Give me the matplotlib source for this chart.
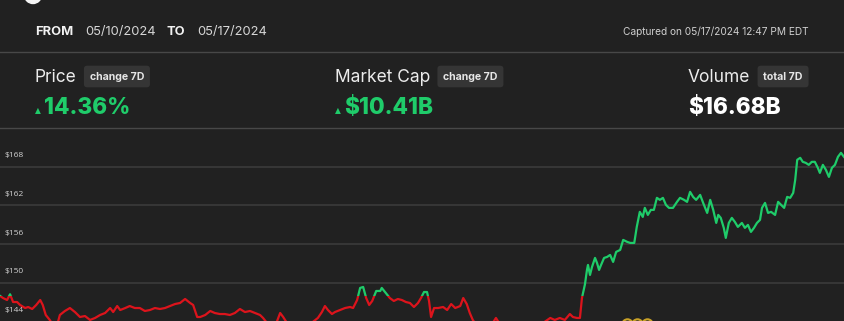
import numpy as np
import matplotlib
matplotlib.use('Agg')
import matplotlib.pyplot as plt
from matplotlib.patches import Rectangle, Ellipse

# price over the 7 days (hours since 05/10 12:47)
hours = [0.0, 0.6, 1.4, 2.0, 2.6, 3.4, 4.0, 5.0, 5.6, 6.4, 7.2, 8.0, 8.5, 9.1, 9.9, 10.5, 11.3, 11.9,
         12.9, 13.9, 14.9, 15.9, 16.9, 17.9, 18.9, 19.9, 20.9, 21.9, 22.5, 23.3, 23.9, 24.9, 25.8, 26.8,
         27.8, 28.8, 29.8, 30.8, 31.8, 32.8, 33.8, 34.8, 35.8, 36.8, 37.8, 38.4, 39.2, 39.8, 40.8, 41.8,
         42.7, 43.7, 44.7, 45.7, 46.7, 47.7, 48.7, 49.7, 50.7, 51.7, 52.3, 53.3, 54.7, 55.7, 56.3, 57.3,
         59.6, 61.6, 63.2, 64.0, 64.6, 65.2, 66.0, 66.6, 67.6, 68.6, 69.6, 70.2, 71.0, 71.6, 72.2, 72.8,
         73.4, 74.0, 74.8, 75.6, 75.9, 76.7, 77.5, 78.3, 79.1, 79.9, 80.7, 81.5, 82.3, 83.1, 83.7, 84.3,
         84.9, 85.3, 85.7, 86.3, 87.1, 88.1, 88.9, 89.7, 90.5, 91.5, 92.1, 92.8, 93.4, 94.0, 94.8, 96.4,
         97.8, 98.6, 99.4, 101.4, 104.4, 107.4, 109.4, 110.3, 111.3, 112.3, 113.3, 113.9, 114.7, 115.3,
         115.7, 116.3, 116.7, 116.9, 117.3, 117.7, 118.3, 118.7, 119.1, 119.5, 120.1, 120.7, 121.3, 121.9,
         122.5, 123.3, 123.9, 124.7, 125.3, 126.1, 126.6, 127.2, 127.8, 128.2, 128.8, 129.4, 130.0, 130.6,
         131.2, 131.8, 132.4, 133.0, 133.8, 134.6, 135.2, 136.0, 136.6, 137.2, 137.8, 138.4, 139.2, 139.8,
         140.6, 141.2, 141.8, 142.4, 142.8, 143.3, 143.9, 144.3, 144.9, 145.5, 146.1, 146.7, 147.5, 148.1,
         148.7, 149.3, 149.9, 150.5, 151.1, 151.5, 152.1, 152.7, 153.3, 154.1, 154.7, 155.3, 155.9, 156.5,
         157.1, 157.7, 158.1, 158.5, 159.1, 159.6, 160.2, 160.8, 161.4, 162.0, 162.6, 163.0, 163.6, 164.2,
         164.8, 165.4, 166.0, 166.6, 167.2, 167.8]
price = [148.0, 147.67, 147.36, 148.25, 147.05, 147.05, 146.59, 146.12, 146.28, 145.97, 146.59, 147.36,
         146.59, 145.04, 144.27, 143.5, 143.3, 145.04, 145.66, 146.12, 145.5, 144.73, 144.88, 144.27,
         144.58, 145.04, 145.35, 146.12, 145.5, 146.43, 145.81, 146.12, 146.43, 146.12, 146.12, 145.66,
         145.81, 146.12, 145.97, 146.12, 146.43, 146.74, 146.9, 147.52, 146.9, 146.59, 144.73, 144.73,
         145.04, 145.66, 145.35, 145.19, 145.19, 145.04, 145.35, 145.97, 145.5, 145.66, 145.35, 145.04,
         144.58, 143.6, 143.3, 145.35, 144.73, 143.5, 143.0, 143.6, 144.58, 145.5, 146.43, 145.81,
         145.19, 145.5, 145.81, 146.12, 146.28, 146.12, 147.36, 149.23, 149.38, 147.67, 146.59, 147.21,
         148.76, 148.76, 149.23, 148.45, 147.67, 147.21, 147.52, 147.36, 147.05, 146.9, 146.28, 146.9,
         147.67, 148.6, 148.6, 147.21, 144.73, 146.12, 146.12, 146.28, 145.81, 146.74, 146.12, 146.43,
         147.67, 146.74, 145.35, 144.27, 143.4, 143.0, 143.6, 144.58, 143.6, 143.2, 143.0, 143.5,
         144.58, 144.27, 144.58, 144.27, 145.19, 144.73, 144.58, 144.58, 147.67, 149.8, 152.02, 152.79,
         151.24, 152.48, 153.88, 153.1, 152.02, 152.79, 153.88, 154.03, 154.34, 153.26, 154.81, 155.12,
         156.67, 156.36, 156.2, 156.2, 158.68, 161.01, 160.23, 161.63, 160.54, 161.32, 161.32, 163.18,
         162.87, 163.18, 162.09, 161.63, 161.63, 162.56, 163.18, 162.87, 162.56, 164.11, 163.33, 162.87,
         163.64, 162.4, 160.85, 162.87, 161.32, 159.3, 160.54, 160.08, 158.53, 156.98, 159.3, 160.08,
         159.46, 158.68, 159.3, 158.53, 158.99, 157.91, 158.53, 159.3, 159.77, 161.63, 162.4, 160.85,
         161.01, 160.54, 162.56, 162.09, 161.63, 163.33, 163.18, 163.95, 165.97, 169.07, 169.38, 168.76,
         168.6, 168.29, 168.76, 168.76, 167.83, 167.05, 168.29, 167.52, 166.43, 167.83, 168.29, 169.53,
         170.15, 169.53]
grid_levels = [144, 150, 156, 162, 168]
event_hours = [124.7, 126.6, 128.6]

BG = '#212121'
RED = '#dc141c'
GREEN = '#1fcc6a'
plt.rcParams['font.family'] = ['Inter', 'DejaVu Sans']

fig = plt.figure(figsize=(8.45, 3.21), dpi=100, facecolor=BG)

W, H = 845.0, 321.0
def fx(x):
    return x / W
def fy(y):
    return 1 - y / H

# header
fig.text(fx(35), fy(32), 'FROM', color='#f2f2f2', fontsize=9.3, fontweight='bold', va='center')
fig.text(fx(85), fy(32), '05/10/2024', color='#d6d6d6', fontsize=9.3, va='center')
fig.text(fx(167), fy(32), 'TO', color='#f2f2f2', fontsize=9.3, fontweight='bold', va='center')
fig.text(fx(197), fy(32), '05/17/2024', color='#d6d6d6', fontsize=9.3, va='center')
fig.text(fx(809), fy(32), 'Captured on 05/17/2024 12:47 PM EDT', color='#cfcfcf', fontsize=7.3,
         va='center', ha='right')
fig.add_artist(plt.Line2D([0, 1], [fy(52), fy(52)], color='#484848', lw=1))
fig.add_artist(plt.Line2D([0, 1], [fy(127.5), fy(127.5)], color='#484848', lw=1))
# logo bit cut off at the top
fig.add_artist(Ellipse((fx(33), fy(-5)), 17 / W, 17 / H, transform=fig.transFigure, color='#f5f5f5'))

badge = dict(boxstyle='round,pad=0.55,rounding_size=0.3', fc='#353535', ec='none')
metrics = [(35, 'Price', 'change 7D', '14.36%', GREEN, True),
           (335, 'Market Cap', 'change 7D', '$10.41B', GREEN, True),
           (688, 'Volume', 'total 7D', '$16.68B', '#ffffff', False)]
for x0, name, tag, val, col, arrow in metrics:
    t = fig.text(fx(x0), fy(77.5), name, color='#ececec', fontsize=12.5, va='center')
    fig.canvas.draw()
    bb = t.get_window_extent()
    fig.text(bb.x1 / W + fx(13), fy(76.5), tag, color='#e6e6e6', fontsize=7.6, fontweight='bold',
             va='center', bbox=badge)
    vx = x0
    if arrow:
        fig.text(fx(x0), fy(110.5), '▲', color=col, fontsize=5.5, va='center', family='DejaVu Sans')
        vx = x0 + 9
    fig.text(fx(vx), fy(108), val, color=col, fontsize=16.3, fontweight='heavy', va='center')

# chart
ax = fig.add_axes([0, 0, 1, fy(128)])
ax.set_facecolor(BG)
ax.set_xlim(0, 168)
ax.set_ylim(144.11, 174.0)
for s in ax.spines.values():
    s.set_visible(False)
ax.set_xticks([])
ax.set_yticks([])
for g in grid_levels:
    ax.axhline(g, color='#3d3d3d', lw=1.1, zorder=1)
    ax.annotate(f'${g}', xy=(0, g), xycoords=('axes fraction', 'data'), xytext=(3, 8),
                textcoords='offset points', color='#d2d2d2', fontsize=6, va='center',
                family='Open Sans')

base = price[0]
up = Rectangle((0, base), 168, 100, transform=ax.transData)
down = Rectangle((0, base - 100), 168, 100, transform=ax.transData)
l1, = ax.plot(hours, price, color=GREEN, lw=1.6, zorder=3)
l1.set_clip_path(up)
l2, = ax.plot(hours, price, color=RED, lw=1.6, zorder=3)
l2.set_clip_path(down)

ax.plot(event_hours, [143.6] * len(event_hours), 'o', ms=7.5, mfc='#2a2a22', mec='#c9a227', mew=1.5,
        clip_on=False, zorder=4)

fig.savefig('out.png', dpi=100, facecolor=BG)
